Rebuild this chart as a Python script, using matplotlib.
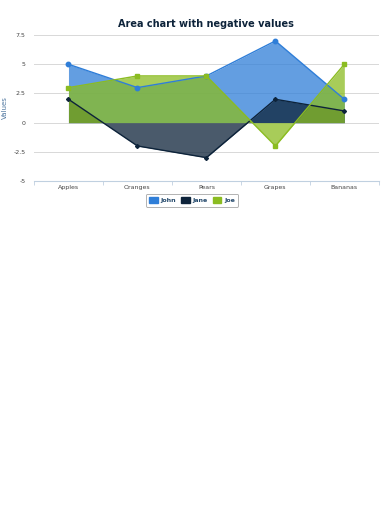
import matplotlib.pyplot as plt
import numpy as np

# categories and series
fruits = ['Apples', 'Oranges', 'Pears', 'Grapes', 'Bananas']
john = [5, 3, 4, 7, 2]
jane = [2, -2, -3, 2, 1]
joe = [3, 4, 4, -2, 5]
yticks = [-5, -2.5, 0, 2.5, 5, 7.5]
ytick_lbls = ['-5', '-2.5', '0', '2.5', '5', '7.5']

fig = plt.figure(figsize=(3.84, 5.12), dpi=100)
ax = fig.add_axes([0.0885, 0.6465, 0.898, 0.285])

x = np.arange(len(fruits))
series = [('John', john, '#2f7ed8', 'o', 3.2),
          ('Jane', jane, '#0d233a', 'D', 2.0),
          ('Joe', joe, '#8bbc21', 's', 3.2)]
for name, vals, col, mk, ms in series:
    ax.fill_between(x, vals, 0, color=col, alpha=0.75, lw=0, zorder=2)
    ax.plot(x, vals, color=col, lw=1, marker=mk, ms=ms, zorder=3, label=name)

ax.set_xlim(-0.5, 4.5)
ax.set_ylim(-5, 7.5)
ax.set_yticks(yticks)
ax.set_yticklabels(ytick_lbls, fontsize=4.5, color='#444444')
ax.set_xticks(x)
ax.set_xticklabels(fruits, fontsize=4.5, color='#444444')
ax.set_xticks(np.arange(-0.5, 5, 1), minor=True)
ax.tick_params(axis='x', which='major', length=0, pad=3)
ax.tick_params(axis='x', which='minor', length=3, color='#C0D0E0')
ax.tick_params(axis='y', length=0, pad=6)
ax.grid(axis='y', color='#d8d8d8', lw=0.7, zorder=0)
for s in ['top', 'right', 'left']:
    ax.spines[s].set_visible(False)
ax.spines['bottom'].set_color('#C0D0E0')
ax.spines['bottom'].set_linewidth(0.8)

ax.set_ylabel('Values', fontsize=5, color='#4d759e')
ax.yaxis.set_label_coords(-0.075, 0.5)
ax.set_title('Area chart with negative values', fontsize=7, fontweight='bold',
             color='#0d233a', pad=6)

handles = [plt.Rectangle((0, 0), 1, 1, fc=c, ec=c) for _, _, c, _, _ in series]
leg = fig.legend(handles, [s[0] for s in series], loc='center',
                 bbox_to_anchor=(0.5, 0.609), ncol=3, fontsize=4.5,
                 frameon=True, handlelength=1.4, handleheight=1.2,
                 handletextpad=0.4, columnspacing=0.8, borderpad=0.5)
leg.get_frame().set_edgecolor('#909090')
leg.get_frame().set_linewidth(0.6)
for t in leg.get_texts():
    t.set_color('#274b6d')
    t.set_fontweight('bold')

fig.savefig('out.png', dpi=100)
